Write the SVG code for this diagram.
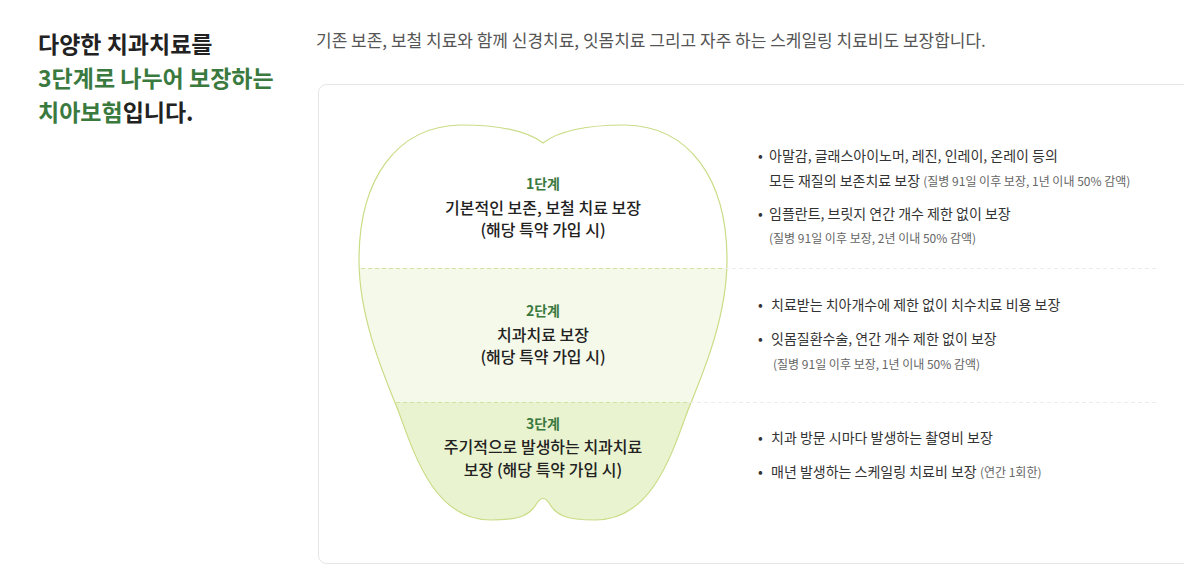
<svg xmlns="http://www.w3.org/2000/svg" width="1184" height="572" viewBox="0 0 1184 572">
<style>
text{font-family:"Noto Sans CJK KR","Noto Sans",sans-serif}
.t{font-size:23px;font-weight:bold;fill:#222}
.g{fill:#3a7a3f}
.st{font-size:14px;font-weight:bold;fill:#3a7a3f}
.m{font-size:16px;font-weight:500;fill:#222}
.li{font-size:14px;fill:#333}
.sm{font-size:12px;fill:#666}
.div{stroke:#d0e2a0;stroke-dasharray:4 3}
.div2{stroke:#ececec;stroke-dasharray:4 3}
</style>
<defs>
<clipPath id="tc"><path d="M543,143 C560,130 590,125 625,125 C690,126 727,180 727,260 C727,320 700,380 688,410 C670,460 650,520 595,520 C565,520 556,515 549,503 Q543,494 537,503 C530,515 521,520 491,520 C436,520 416,460 398,410 C386,380 359,320 359,260 C359,180 396,126 461,125 C496,125 526,130 543,143 Z"/></clipPath>
</defs>
<rect width="1184" height="572" fill="#fff"/>
<g id="title">
<text class="t" x="38" y="53">다양한 치과치료를</text>
<text class="t g" x="38" y="87">3단계로 나누어 보장하는</text>
<text class="t" x="38" y="121"><tspan class="g">치아보험</tspan>입니다.</text>
</g>
<text x="316" y="47" style="font-size:17px;fill:#555">기존 보존, 보철 치료와 함께 신경치료, 잇몸치료 그리고 자주 하는 스케일링 치료비도 보장합니다.</text>
<rect x="318.5" y="84.5" width="880" height="479" rx="8" fill="#fff" stroke="#e6e6e6"/>
<g id="tooth">
<g clip-path="url(#tc)">
<rect x="350" y="120" width="390" height="148" fill="#fff"/>
<rect x="350" y="268" width="390" height="134" fill="#f5f9ea"/>
<rect x="350" y="402" width="390" height="130" fill="#eaf3d0"/>
</g>
<path d="M543,143 C560,130 590,125 625,125 C690,126 727,180 727,260 C727,320 700,380 688,410 C670,460 650,520 595,520 C565,520 556,515 549,503 Q543,494 537,503 C530,515 521,520 491,520 C436,520 416,460 398,410 C386,380 359,320 359,260 C359,180 396,126 461,125 C496,125 526,130 543,143 Z" fill="none" stroke="#c9dc86" stroke-width="1.2"/>
</g>
<g id="connectors">
<line class="div" x1="361" y1="268.5" x2="725" y2="268.5"/>
<line class="div2" x1="725" y1="268.5" x2="1158" y2="268.5"/>
<line class="div" x1="396" y1="402.5" x2="690" y2="402.5"/>
<line class="div2" x1="690" y1="402.5" x2="1158" y2="402.5"/>
</g>
<g id="stage1" text-anchor="middle">
<text class="st" x="543" y="189">1단계</text>
<text class="m" x="543" y="214">기본적인 보존, 보철 치료 보장</text>
<text class="m" x="543" y="236">(해당 특약 가입 시)</text>
</g>
<g id="stage2" text-anchor="middle">
<text class="st" x="543" y="316">2단계</text>
<text class="m" x="543" y="341">치과치료 보장</text>
<text class="m" x="543" y="363">(해당 특약 가입 시)</text>
</g>
<g id="stage3" text-anchor="middle">
<text class="st" x="543" y="429">3단계</text>
<text class="m" x="543" y="453">주기적으로 발생하는 치과치료</text>
<text class="m" x="543" y="476">보장 (해당 특약 가입 시)</text>
</g>
<g id="list1">
<text class="li" x="758" y="161">•</text><text class="li" x="769" y="161">아말감, 글래스아이노머, 레진, 인레이, 온레이 등의</text>
<text class="li" x="769" y="186">모든 재질의 보존치료 보장 <tspan class="sm">(질병 91일 이후 보장, 1년 이내 50% 감액)</tspan></text>
<text class="li" x="758" y="219">•</text><text class="li" x="769" y="219">임플란트, 브릿지 연간 개수 제한 없이 보장</text>
<text class="sm" x="769" y="243">(질병 91일 이후 보장, 2년 이내 50% 감액)</text>
</g>
<g id="list2">
<text class="li" x="758" y="310">•</text><text class="li" x="771" y="310">치료받는 치아개수에 제한 없이 치수치료 비용 보장</text>
<text class="li" x="758" y="344">•</text><text class="li" x="771" y="344">잇몸질환수술, 연간 개수 제한 없이 보장</text>
<text class="sm" x="773" y="369">(질병 91일 이후 보장, 1년 이내 50% 감액)</text>
</g>
<g id="list3">
<text class="li" x="758" y="443">•</text><text class="li" x="771" y="443">치과 방문 시마다 발생하는 촬영비 보장</text>
<text class="li" x="758" y="477">•</text><text class="li" x="771" y="477">매년 발생하는 스케일링 치료비 보장 <tspan class="sm">(연간 1회한)</tspan></text>
</g>
</svg>
